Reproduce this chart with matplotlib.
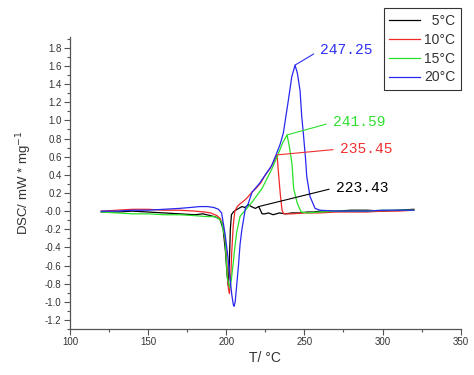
import numpy as np
import matplotlib
matplotlib.use('Agg')
import matplotlib.pyplot as plt
from matplotlib.ticker import MultipleLocator

plt.rcParams['font.family'] = ['Liberation Sans', 'DejaVu Sans']

# DSC curves (T in degC, DSC in mW/mg)
t_5 = [120, 130, 140, 150, 160, 170, 180, 185, 190, 194, 196, 198, 199.5, 200.5, 201.3, 202,
       202.6, 203.3, 204.5, 206, 208, 210, 212, 214.3, 216, 218.6, 220.7, 221.6, 222.9, 224.8,
       227, 230, 234, 238, 242, 247, 252, 256, 260, 270, 280, 290, 300, 310, 320]
dsc_5 = [-0.01, -0.01, 0.0, -0.01, -0.02, -0.03, -0.04, -0.03, -0.05, -0.07, -0.09, -0.2, -0.45,
         -0.7, -0.82, -0.55, -0.2, -0.04, -0.01, 0.01, 0.03, 0.05, 0.04, 0.07, 0.05, 0.03, 0.05,
         0.02, -0.03, -0.03, -0.02, -0.04, -0.02, -0.03, -0.02, -0.02, -0.01, -0.01, 0.0, 0.0,
         0.01, 0.01, 0.0, 0.01, 0.02]

t_10 = [120, 130, 140, 150, 160, 170, 180, 186, 190, 194, 196, 198, 199.5, 200.5, 201.3, 202,
        202.8, 203.5, 204.5, 205.5, 207, 208.8, 211, 213, 216.5, 219.5, 222, 225, 228, 230.5,
        232.5, 233.5, 234.6, 235.7, 236.7, 238.7, 242, 250, 260, 270, 280, 290, 300, 310, 320]
dsc_10 = [0.0, 0.01, 0.02, 0.02, 0.01, 0.01, 0.0, -0.01, -0.02, -0.05, -0.08, -0.15, -0.35, -0.6,
          -0.85, -0.91, -0.75, -0.45, -0.15, 0.0, 0.05, 0.08, 0.11, 0.14, 0.21, 0.26, 0.31, 0.40,
          0.47, 0.55, 0.62, 0.40, 0.18, 0.01, -0.03, -0.03, -0.03, -0.02, -0.02, -0.01, -0.01,
          -0.01, 0.0, 0.0, 0.01]

t_15 = [120, 130, 140, 150, 160, 170, 180, 187, 192, 195, 197, 199.2, 200.7, 202.4, 203.3, 204.5,
        205.6, 206.7, 208.8, 210.1, 212.2, 216.5, 222.9, 229.3, 233, 236, 238.9, 240.5, 242.1,
        243.1, 245.2, 246.3, 248, 252, 260, 270, 280, 290, 300, 310, 320]
dsc_15 = [-0.01, -0.02, -0.03, -0.03, -0.04, -0.04, -0.05, -0.06, -0.06, -0.08, -0.12, -0.3,
          -0.74, -0.85, -0.75, -0.56, -0.38, -0.23, -0.06, -0.03, 0.01, 0.10, 0.25, 0.47, 0.62,
          0.75, 0.84, 0.70, 0.51, 0.25, 0.10, 0.05, -0.01, -0.02, -0.01, 0.0, 0.0, 0.0, 0.01,
          0.01, 0.01]

t_20 = [120, 130, 140, 150, 160, 170, 177, 183, 188, 192, 195, 197, 199.2, 201, 202.4, 203.5,
        204.5, 205, 205.7, 206.7, 207.8, 208.8, 210, 211, 212.2, 214, 216.5, 219, 221, 225,
        229, 232.3, 234.5, 236.5, 239.7, 241.9, 244, 245.5, 247.2, 248.3, 249.3, 250.8, 251.5,
        253.6, 256.8, 260, 270, 280, 290, 300, 310, 320]
dsc_20 = [0.0, 0.0, 0.01, 0.01, 0.02, 0.03, 0.04, 0.05, 0.05, 0.04, 0.02, -0.02, -0.25, -0.5,
          -0.74, -0.92, -1.03, -1.05, -1.0, -0.81, -0.6, -0.37, -0.2, -0.1, 0.03, 0.08, 0.21,
          0.26, 0.30, 0.40, 0.50, 0.64, 0.74, 0.86, 1.22, 1.48, 1.61, 1.52, 1.33, 1.04, 0.86,
          0.56, 0.38, 0.16, 0.03, 0.01, 0.0, 0.0, 0.0, 0.01, 0.01, 0.01]

labels = ['5°C', '10°C', '15°C', '20°C']
colors = ['#000000', '#f02828', '#28e028', '#2828f0']
text_colors = ['#000000', '#f03030', '#30e030', '#3030f0']

# peak labels: where the leader touches the curve, and where the text sits
peak_text = ['223.43', '235.45', '241.59', '247.25']
peak_xy = [(220.7, 0.05), (232.5, 0.62), (238.9, 0.84), (244.0, 1.61)]
text_xy = [(270.2, 0.26), (272.8, 0.685), (268.3, 0.98), (260.0, 1.775)]

fig = plt.figure(figsize=(4.74, 3.75), dpi=100)
ax = fig.add_axes([70 / 474, 1 - 329 / 375, 390.7 / 474, 292 / 375])

series = [(t_5, dsc_5), (t_10, dsc_10), (t_15, dsc_15), (t_20, dsc_20)]
for (t, d), lab, c in zip(series, labels, colors):
    ax.plot(t, d, color=c, lw=0.9, label='  ' + lab if lab == '5°C' else lab)

for txt, xy, xyt, c in zip(peak_text, peak_xy, text_xy, text_colors):
    ax.annotate(txt, xy=xy, xytext=xyt, ha='left', va='center', color=c,
                fontsize=10.5, family='Liberation Mono',
                arrowprops=dict(arrowstyle='-', color=c, lw=0.8, relpos=(0, 0.5),
                                shrinkA=3, shrinkB=0))

ax.set_xlim(100, 350)
ax.set_ylim(-1.30, 1.92)
ax.xaxis.set_major_locator(MultipleLocator(50))
ax.xaxis.set_minor_locator(MultipleLocator(25))
ax.yaxis.set_major_locator(MultipleLocator(0.2))
ax.yaxis.set_minor_locator(MultipleLocator(0.1))
ax.set_yticks(np.round(np.arange(-1.2, 1.81, 0.2), 1))
ax.yaxis.set_major_formatter(matplotlib.ticker.FormatStrFormatter('%.1f'))
ax.set_ylim(-1.30, 1.92)

for s in ['top', 'right']:
    ax.spines[s].set_visible(False)
for s in ['left', 'bottom']:
    ax.spines[s].set_color('#555555')
    ax.spines[s].set_linewidth(0.9)
ax.tick_params(which='major', direction='out', length=4, width=0.8, color='#555555',
               labelsize=7, labelcolor='#333333', pad=2)
ax.tick_params(which='minor', direction='out', length=2.5, width=0.8, color='#555555')

ax.set_xlabel('T/ °C', fontsize=10, color='#333333', labelpad=3)
ax.set_ylabel('DSC/ mW * mg$^{-1}$', fontsize=9.5, color='#333333', labelpad=8)

leg = fig.legend(loc='lower right', bbox_to_anchor=(461 / 474, 1 - 90 / 375),
                 frameon=True, fancybox=False, fontsize=10, handlelength=2.2,
                 handletextpad=0.3, labelspacing=0.35, borderpad=0.4, borderaxespad=0)
leg.get_frame().set_edgecolor('black')
leg.get_frame().set_linewidth(0.8)
for t in leg.get_texts():
    t.set_color('#333333')

fig.savefig('out.png', dpi=100)
